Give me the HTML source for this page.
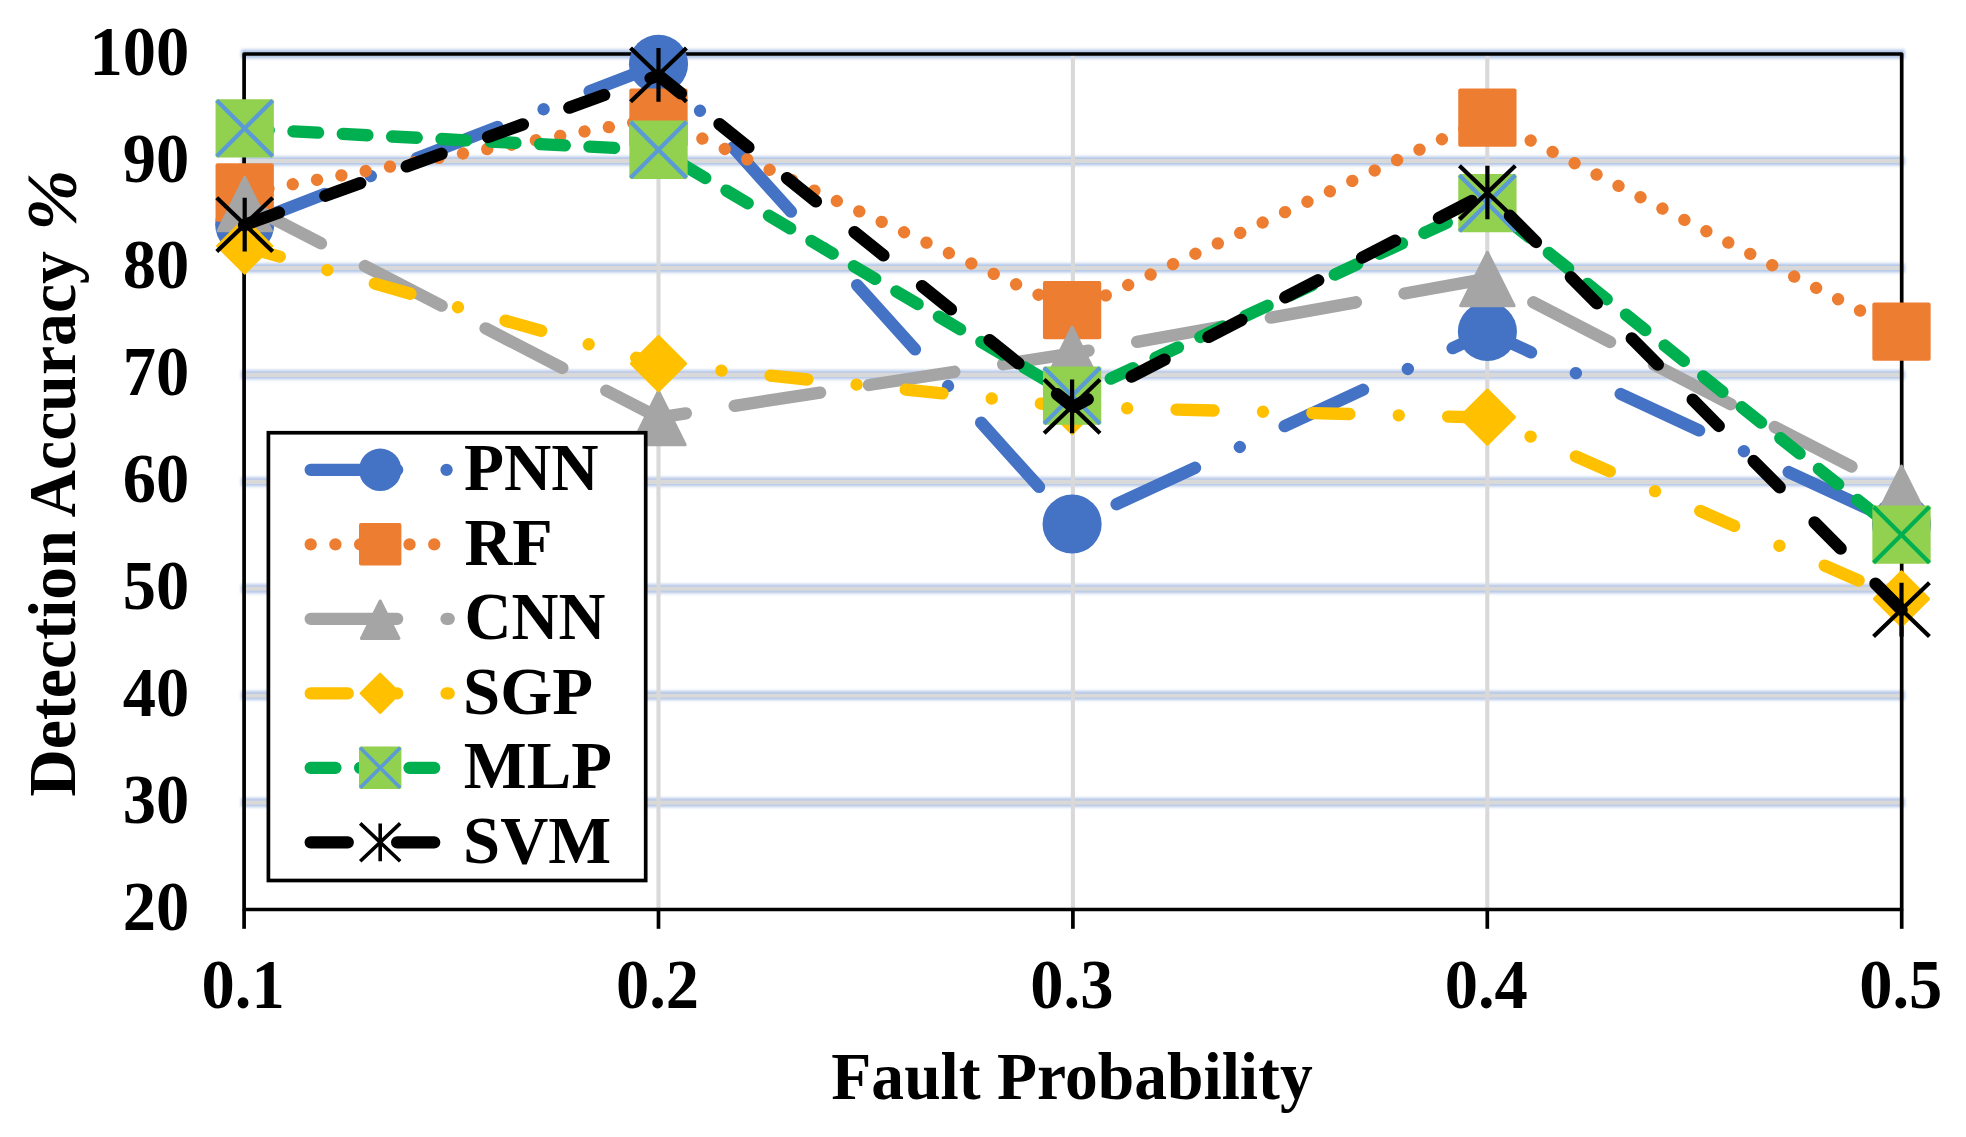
<!DOCTYPE html>
<html><head><meta charset="utf-8"><title>Detection Accuracy vs Fault Probability</title>
<style>
html,body{margin:0;padding:0;background:#fff;}
body{width:1966px;height:1137px;overflow:hidden;}
svg{display:block;}
text{font-family:"Liberation Serif","Times New Roman",serif;font-weight:bold;fill:#000;}
.t{font-size:66.5px;}
</style></head><body>
<svg width="1966" height="1137" viewBox="0 0 1966 1137">
<defs><filter id="gl" filterUnits="userSpaceOnUse" x="200" y="20" width="1760" height="820"><feGaussianBlur stdDeviation="1.5"/></filter></defs>
<rect width="1966" height="1137" fill="#fff"/>

<g filter="url(#gl)" stroke="#4472c4" stroke-opacity="0.41" stroke-width="9" fill="none">
<path d="M241.1 802.56H1904.7"/>
<path d="M241.1 695.62H1904.7"/>
<path d="M241.1 588.69H1904.7"/>
<path d="M241.1 481.75H1904.7"/>
<path d="M241.1 374.81H1904.7"/>
<path d="M241.1 267.88H1904.7"/>
<path d="M241.1 160.94H1904.7"/>
<path d="M241.1 54H1904.7"/>
</g>
<g stroke="#d9d9d9" stroke-width="4.1" fill="none">
<path d="M244.1 802.66H1901.7"/>
<path d="M244.1 695.73H1901.7"/>
<path d="M244.1 588.79H1901.7"/>
<path d="M244.1 481.85H1901.7"/>
<path d="M244.1 374.91H1901.7"/>
<path d="M244.1 267.98H1901.7"/>
<path d="M244.1 161.04H1901.7"/>
<path d="M658.5 54V909.5"/>
<path d="M1072.9 54V909.5"/>
<path d="M1487.3 54V909.5"/>
</g>
<g stroke="#000" stroke-width="3.7" fill="none">
<rect x="244.1" y="54" width="1657.6" height="855.5" stroke-linejoin="round"/>
<path d="M244.1 909.5V928.8"/>
<path d="M658.5 909.5V928.8"/>
<path d="M1072.9 909.5V928.8"/>
<path d="M1487.3 909.5V928.8"/>
<path d="M1901.7 909.5V928.8"/>
</g>
<polyline points="244.1,225.1 658.5,64.69 1072.9,524.52 1487.3,332.04 1901.7,524.52" fill="none" stroke="#4472c4" stroke-width="12.35" stroke-linecap="round" stroke-linejoin="round" stroke-dasharray="86.45 49.4 0.01 49.4"/>
<circle cx="244.7" cy="224.6" r="29.55" fill="#4472c4"/>
<circle cx="658.5" cy="64.19" r="29.55" fill="#4472c4"/>
<circle cx="1072.1" cy="524.02" r="29.55" fill="#4472c4"/>
<circle cx="1487.4" cy="331.54" r="29.55" fill="#4472c4"/>
<circle cx="1901.5" cy="524.02" r="29.55" fill="#4472c4"/>
<polyline points="244.1,193.02 658.5,118.16 1072.9,310.65 1487.3,118.16 1901.7,332.04" fill="none" stroke="#ed7d31" stroke-width="12.35" stroke-linecap="round" stroke-linejoin="round" stroke-dasharray="0.01 24.7"/>
<rect x="215.55" y="163.37" width="58.3" height="58.3" rx="2" fill="#ed7d31"/>
<rect x="629.35" y="88.51" width="58.3" height="58.3" rx="2" fill="#ed7d31"/>
<rect x="1042.95" y="281" width="58.3" height="58.3" rx="2" fill="#ed7d31"/>
<rect x="1458.25" y="88.51" width="58.3" height="58.3" rx="2" fill="#ed7d31"/>
<rect x="1872.35" y="302.39" width="58.3" height="58.3" rx="2" fill="#ed7d31"/>
<polyline points="244.1,203.71 658.5,417.59 1072.9,353.43 1487.3,278.57 1901.7,492.44" fill="none" stroke="#a5a5a5" stroke-width="12.35" stroke-linecap="round" stroke-linejoin="round" stroke-dasharray="86.45 49.4"/>
<path d="M244.7 177.41L271.42 230.86L217.98 230.86Z" fill="#a5a5a5" stroke="#a5a5a5" stroke-width="3" stroke-linejoin="round"/>
<path d="M658.5 391.29L685.22 444.74L631.78 444.74Z" fill="#a5a5a5" stroke="#a5a5a5" stroke-width="3" stroke-linejoin="round"/>
<path d="M1072.1 327.13L1098.82 380.57L1045.38 380.57Z" fill="#a5a5a5" stroke="#a5a5a5" stroke-width="3" stroke-linejoin="round"/>
<path d="M1487.4 252.27L1514.12 305.72L1460.68 305.72Z" fill="#a5a5a5" stroke="#a5a5a5" stroke-width="3" stroke-linejoin="round"/>
<path d="M1901.5 466.14L1928.22 519.59L1874.78 519.59Z" fill="#a5a5a5" stroke="#a5a5a5" stroke-width="3" stroke-linejoin="round"/>
<polyline points="244.1,246.49 658.5,364.12 1072.9,406.89 1487.3,417.59 1901.7,599.38" fill="none" stroke="#ffc000" stroke-width="12.35" stroke-linecap="round" stroke-linejoin="round" stroke-dasharray="37.05 49.4 0.01 49.4"/>
<path d="M244.7 218.94L271.75 245.99L244.7 273.04L217.65 245.99Z" fill="#ffc000" stroke="#ffc000" stroke-width="3" stroke-linejoin="round"/>
<path d="M658.5 336.57L685.55 363.62L658.5 390.67L631.45 363.62Z" fill="#ffc000" stroke="#ffc000" stroke-width="3" stroke-linejoin="round"/>
<path d="M1072.1 379.34L1099.15 406.39L1072.1 433.44L1045.05 406.39Z" fill="#ffc000" stroke="#ffc000" stroke-width="3" stroke-linejoin="round"/>
<path d="M1487.4 390.04L1514.45 417.09L1487.4 444.14L1460.35 417.09Z" fill="#ffc000" stroke="#ffc000" stroke-width="3" stroke-linejoin="round"/>
<path d="M1901.5 571.83L1928.55 598.88L1901.5 625.93L1874.45 598.88Z" fill="#ffc000" stroke="#ffc000" stroke-width="3" stroke-linejoin="round"/>
<polyline points="244.1,128.86 658.5,150.24 1072.9,396.2 1487.3,203.71 1901.7,535.22" fill="none" stroke="#00b050" stroke-width="12.35" stroke-linecap="round" stroke-linejoin="round" stroke-dasharray="24.7 24.7"/>
<rect x="215.55" y="99.21" width="58.3" height="58.3" rx="2" fill="#92d050"/><path d="M216.75 100.41L272.65 156.31M272.65 100.41L216.75 156.31" stroke="#5b9bd5" stroke-width="4.2" fill="none"/>
<rect x="629.35" y="120.59" width="58.3" height="58.3" rx="2" fill="#92d050"/><path d="M630.55 121.79L686.45 177.69M686.45 121.79L630.55 177.69" stroke="#5b9bd5" stroke-width="4.2" fill="none"/>
<rect x="1042.95" y="366.55" width="58.3" height="58.3" rx="2" fill="#92d050"/><path d="M1044.15 367.75L1100.05 423.65M1100.05 367.75L1044.15 423.65" stroke="#5b9bd5" stroke-width="4.2" fill="none"/>
<rect x="1458.25" y="174.06" width="58.3" height="58.3" rx="2" fill="#92d050"/><path d="M1459.45 175.26L1515.35 231.16M1515.35 175.26L1459.45 231.16" stroke="#5b9bd5" stroke-width="4.2" fill="none"/>
<rect x="1872.35" y="505.57" width="58.3" height="58.3" rx="2" fill="#92d050"/><path d="M1873.55 506.77L1929.45 562.67M1929.45 506.77L1873.55 562.67" stroke="#00b050" stroke-width="4.2" fill="none"/>
<polyline points="244.1,225.1 658.5,75.39 1072.9,406.89 1487.3,193.02 1901.7,610.08" fill="none" stroke="#000000" stroke-width="12.35" stroke-linecap="round" stroke-linejoin="round" stroke-dasharray="37.05 49.4"/>
<path d="M244.7 197.75V251.45M216.75 197.75L272.65 251.45M272.65 197.75L216.75 251.45" stroke="#000" stroke-width="4.2" fill="none"/>
<path d="M658.5 48.04V101.74M630.55 48.04L686.45 101.74M686.45 48.04L630.55 101.74" stroke="#000" stroke-width="4.2" fill="none"/>
<path d="M1072.1 379.54V433.24M1044.15 379.54L1100.05 433.24M1100.05 379.54L1044.15 433.24" stroke="#000" stroke-width="4.2" fill="none"/>
<path d="M1487.4 165.67V219.37M1459.45 165.67L1515.35 219.37M1515.35 165.67L1459.45 219.37" stroke="#000" stroke-width="4.2" fill="none"/>
<path d="M1901.5 582.73V636.43M1873.55 582.73L1929.45 636.43M1929.45 582.73L1873.55 636.43" stroke="#000" stroke-width="4.2" fill="none"/>
<rect x="268.4" y="432.75" width="377.3" height="447.75" fill="#fff" stroke="#000" stroke-width="3.7"/>
<path d="M310.7 469.8H448.7" fill="none" stroke="#4472c4" stroke-width="12.35" stroke-linecap="round" stroke-dasharray="86.45 49.4 0.01 49.4"/>
<circle cx="380.2" cy="469.8" r="21.2" fill="#4472c4"/>
<text class="t" transform="translate(463.9 490.2) scale(0.985 1.03)" text-anchor="start">PNN</text>
<path d="M310.7 544.3H448.7" fill="none" stroke="#ed7d31" stroke-width="12.35" stroke-linecap="round" stroke-dasharray="0.01 24.7"/>
<rect x="359" y="523.1" width="42.4" height="42.4" rx="2" fill="#ed7d31"/>
<text class="t" transform="translate(464.6 564.7) scale(0.995 1.03)" text-anchor="start">RF</text>
<path d="M310.7 618.8H448.7" fill="none" stroke="#a5a5a5" stroke-width="12.35" stroke-linecap="round" stroke-dasharray="86.45 49.4"/>
<path d="M380.2 600.95L398.97 638.5L361.43 638.5Z" fill="#a5a5a5" stroke="#a5a5a5" stroke-width="3" stroke-linejoin="round"/>
<text class="t" transform="translate(464.6 639.2) scale(0.978 1.03)" text-anchor="start">CNN</text>
<path d="M310.7 693.3H448.7" fill="none" stroke="#ffc000" stroke-width="12.35" stroke-linecap="round" stroke-dasharray="37.05 49.4 0.01 49.4"/>
<path d="M380.2 674.2L399.3 693.3L380.2 712.4L361.1 693.3Z" fill="#ffc000" stroke="#ffc000" stroke-width="3" stroke-linejoin="round"/>
<text class="t" transform="translate(463.1 713.7) scale(1.005 1.03)" text-anchor="start">SGP</text>
<path d="M310.7 767.8H448.7" fill="none" stroke="#00b050" stroke-width="12.35" stroke-linecap="round" stroke-dasharray="24.7 24.7"/>
<rect x="359" y="746.6" width="42.4" height="42.4" rx="2" fill="#92d050"/><path d="M360.2 747.8L400.2 787.8M400.2 747.8L360.2 787.8" stroke="#5b9bd5" stroke-width="3.6" fill="none"/>
<text class="t" transform="translate(463.8 788.2) scale(1.003 1.03)" text-anchor="start">MLP</text>
<path d="M310.7 842.3H448.7" fill="none" stroke="#000000" stroke-width="12.35" stroke-linecap="round" stroke-dasharray="37.05 49.4"/>
<path d="M380.2 823.4V861.2M360.2 823.4L400.2 861.2M400.2 823.4L360.2 861.2" stroke="#000" stroke-width="3.6" fill="none"/>
<text class="t" transform="translate(463.1 862.7) scale(1.003 1.03)" text-anchor="start">SVM</text>
<text class="t" transform="translate(189.3 930.1) scale(1.0 1.04)" text-anchor="end">20</text>
<text class="t" transform="translate(189.3 823.16) scale(1.0 1.04)" text-anchor="end">30</text>
<text class="t" transform="translate(189.3 716.23) scale(1.0 1.04)" text-anchor="end">40</text>
<text class="t" transform="translate(189.3 609.29) scale(1.0 1.04)" text-anchor="end">50</text>
<text class="t" transform="translate(189.3 502.35) scale(1.0 1.04)" text-anchor="end">60</text>
<text class="t" transform="translate(189.3 395.41) scale(1.0 1.04)" text-anchor="end">70</text>
<text class="t" transform="translate(189.3 288.48) scale(1.0 1.04)" text-anchor="end">80</text>
<text class="t" transform="translate(189.3 181.54) scale(1.0 1.04)" text-anchor="end">90</text>
<text class="t" transform="translate(189.3 74.6) scale(1.0 1.04)" text-anchor="end">100</text>
<text class="t" transform="translate(243.1 1007.7) scale(1.0 1.04)" text-anchor="middle">0.1</text>
<text class="t" transform="translate(657.5 1007.7) scale(1.0 1.04)" text-anchor="middle">0.2</text>
<text class="t" transform="translate(1071.9 1007.7) scale(1.0 1.04)" text-anchor="middle">0.3</text>
<text class="t" transform="translate(1486.3 1007.7) scale(1.0 1.04)" text-anchor="middle">0.4</text>
<text class="t" transform="translate(1900.7 1007.7) scale(1.0 1.04)" text-anchor="middle">0.5</text>
<text class="t" transform="translate(1072 1099.3) scale(0.986 1.02)" text-anchor="middle">Fault Probability</text>
<text class="t" transform="translate(74.6 796.7) rotate(-90) scale(0.9885 1.02)">Detection Accuracy</text>
<text class="t" font-style="italic" transform="translate(76 231) rotate(-90) scale(1.11 1.085)">%</text>
</svg></body></html>
